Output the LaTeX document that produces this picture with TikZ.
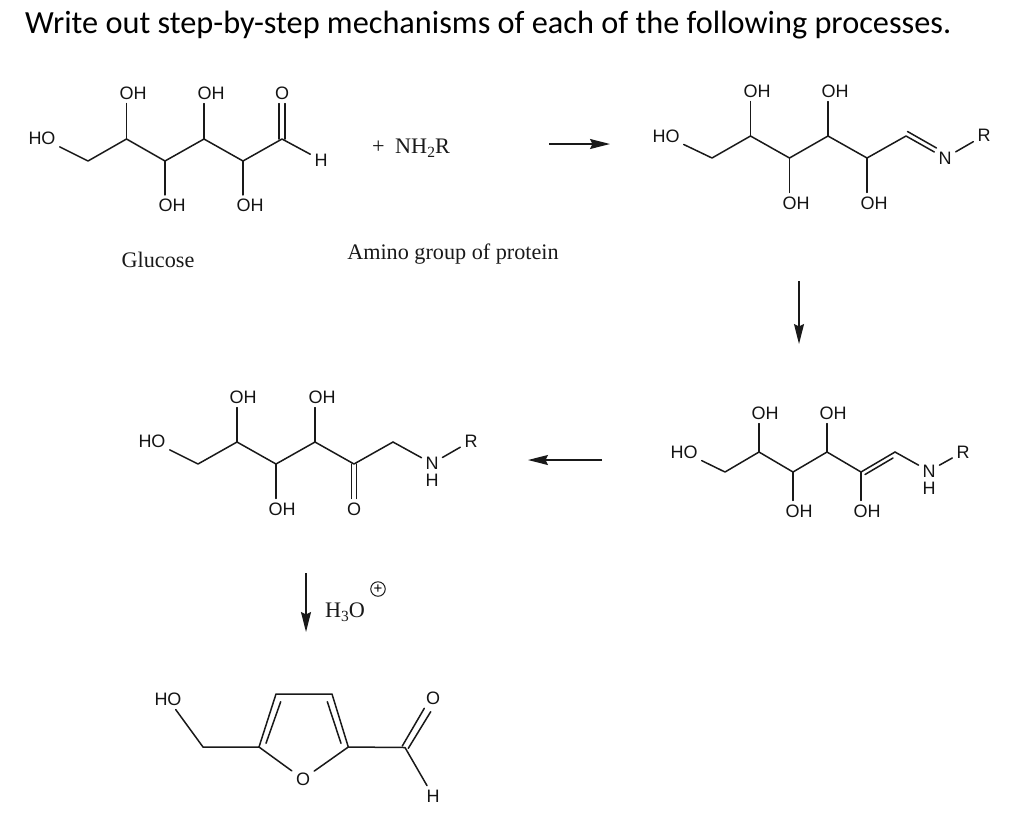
\documentclass[tikz,border=0pt]{standalone}
\usepackage{fontspec}
\setmainfont{Liberation Sans}
\newfontfamily\titlefont{Carlito}
\newfontfamily\serifchem{Liberation Serif}
\usetikzlibrary{arrows.meta}
\newcommand{\subtwo}[1]{\raisebox{-4.5pt}{\fontsize{15.5}{15.5}\selectfont #1}}
\tikzset{
  atom/.style={inner sep=4pt,yshift=1pt,font=\fontsize{18}{18}\selectfont,text=black!92},
  caption/.style={inner sep=0pt,font=\serifchem\fontsize{22.2}{24}\selectfont,text=black!90},
  bond/.style={line width=1.5pt,black!90,line cap=round,line join=round},
  rxn/.style={line width=1.5pt,black!90,-{Stealth[length=20pt,width=10pt,inset=2.5pt]}},
  charge/.style={circle,draw=black!90,line width=1pt,inner sep=0pt,minimum size=14.5pt,font=\fontsize{15}{15}\selectfont}
}
\begin{document}
\begin{tikzpicture}[x=1pt,y=-1pt]
\useasboundingbox[fill=white] (0,0) rectangle (1024,820);
% title
\node[anchor=base west,inner sep=0pt,font=\titlefont\fontsize{32.3}{34}\selectfont,text=black] (title) at (25,33.5) {Write out step-by-step mechanisms of each of the following processes.};

% ---------- glucose
\coordinate (ga) at (88,161);
\coordinate (gb) at (126.5,139);
\coordinate (gc) at (165,161);
\coordinate (gd) at (204,139);
\coordinate (ge) at (243,161);
\coordinate (gf) at (282,139);
\node[atom] (gho) at (42,139) {HO};
\node[atom] (goh1) at (133,94) {OH};
\node[atom] (goh2) at (211,94) {OH};
\node[atom] (goh3) at (172,206.5) {OH};
\node[atom] (goh4) at (250,206.5) {OH};
\node[atom] (go) at (282,94) {O};
\node[atom] (gh) at (321,161) {H};
\draw[bond] (gho) -- (ga) -- (gb) -- (gc) -- (gd) -- (ge) -- (gf) -- (gh);
\draw[bond] (gb) -- (goh1.south -| gb);
\draw[bond] (gd) -- (goh2.south -| gd);
\draw[bond] (gc) -- (goh3.north -| gc);
\draw[bond] (ge) -- (goh4.north -| ge);
\draw[bond] ([xshift=-2.8pt]gf) -- ([xshift=-2.8pt]go.south);
\draw[bond] ([xshift=2.8pt]gf) -- ([xshift=2.8pt]go.south);
\node[caption] (glabel) at (158,260) {Glucose};
\node[caption,anchor=base west] (plus) at (372,153) {+\hspace{10.5pt}NH\subtwo{2}R};
\node[caption] (amino) at (453,254.5) {Amino group of protein};

% ---------- imine
\coordinate (ia) at (712,158);
\coordinate (ib) at (750.5,136);
\coordinate (ic) at (789.5,158);
\coordinate (id) at (828,136);
\coordinate (ie) at (867,158);
\coordinate (if) at (906,136);
\coordinate (id1) at (907.5,131.5);
\coordinate (id2) at (936.5,148);
\node[atom] (iho) at (666,137) {HO};
\node[atom] (ioh1) at (757,92) {OH};
\node[atom] (ioh2) at (835,92) {OH};
\node[atom] (ioh3) at (796,204) {OH};
\node[atom] (ioh4) at (874,204) {OH};
\node[atom] (in) at (945,159) {N};
\node[atom] (ir) at (984,136.5) {R};
\draw[bond] (iho) -- (ia) -- (ib) -- (ic) -- (id) -- (ie) -- (if) -- (in);
\draw[bond] (id1) -- (id2);
\draw[bond] (in) -- (ir);
\draw[bond] (ib) -- (ioh1.south -| ib);
\draw[bond] (id) -- (ioh2.south -| id);
\draw[bond] (ic) -- (ioh3.north -| ic);
\draw[bond] (ie) -- (ioh4.north -| ie);

% ---------- enol
\coordinate (ea) at (725,472);
\coordinate (eb) at (759,452);
\coordinate (ec) at (793,472);
\coordinate (ed) at (827,452);
\coordinate (ee) at (861,472);
\coordinate (ef) at (895,452);
\coordinate (ei1) at (865,474.5);
\coordinate (ei2) at (893,458);
\node[atom] (eho) at (684,453) {HO};
\node[atom] (eoh1) at (765,414) {OH};
\node[atom] (eoh2) at (833,414) {OH};
\node[atom] (eoh3) at (799,512) {OH};
\node[atom] (eoh4) at (867,512) {OH};
\node[atom,inner sep=2pt] (en) at (929,472) {N};
\node[atom,inner sep=0pt] (eh) at (929,489) {H};
\node[atom] (er) at (963,453) {R};
\draw[bond,shorten >=2pt] (ef) -- (en);
\draw[bond] (eho) -- (ea) -- (eb) -- (ec) -- (ed) -- (ee) -- (ef);
\draw[bond] (ei1) -- (ei2);
\draw[bond,shorten <=2pt] (en) -- (er);
\draw[bond] (eb) -- (eoh1.south -| eb);
\draw[bond] (ed) -- (eoh2.south -| ed);
\draw[bond] (ec) -- (eoh3.north -| ec);
\draw[bond] (ee) -- (eoh4.north -| ee);

% ---------- amino ketone
\coordinate (ka) at (198,464);
\coordinate (kb) at (237,442);
\coordinate (kc) at (276,464);
\coordinate (kd) at (315,442);
\coordinate (ke) at (354,464);
\coordinate (kf) at (393,442);
\node[atom] (kho) at (152,442) {HO};
\node[atom] (koh1) at (243,398) {OH};
\node[atom] (koh2) at (322,398) {OH};
\node[atom] (koh3) at (282,510) {OH};
\node[atom] (ko) at (354,510) {O};
\node[atom,inner sep=2pt] (kn) at (432,464.5) {N};
\node[atom,inner sep=0pt] (kh) at (432,481.5) {H};
\node[atom] (kr) at (471,442) {R};
\draw[bond,shorten >=2pt] (kf) -- (kn);
\draw[bond,shorten <=2pt] (kn) -- (kr);
\draw[bond] (kho) -- (ka) -- (kb) -- (kc) -- (kd) -- (ke) -- (kf);
\draw[bond] (kb) -- (koh1.south -| kb);
\draw[bond] (kd) -- (koh2.south -| kd);
\draw[bond] (kc) -- (koh3.north -| kc);
\draw[bond] ([xshift=-2.6pt]ke) -- ([xshift=-2.6pt]ko.north);
\draw[bond] ([xshift=2.6pt]ke) -- ([xshift=2.6pt]ko.north);

% ---------- furan
\coordinate (fch) at (203,747);
\coordinate (f5) at (259,747);
\coordinate (f4) at (276,694);
\coordinate (f3) at (332,694);
\coordinate (f2) at (348.3,747);
\coordinate (fc) at (405,747.5);
\coordinate (fi1) at (266,743.3);
\coordinate (fi2) at (280.7,701.7);
\coordinate (fi3) at (327.3,701.7);
\coordinate (fi4) at (341,743.3);
\coordinate (fd1) at (402.3,746);
\coordinate (fd2) at (424.3,708.3);
\coordinate (fd3) at (408.3,748.3);
\coordinate (fd4) at (430.7,711.7);
\node[atom] (fho) at (168,700) {HO};
\node[atom] (fo) at (303,780) {O};
\node[atom] (fo2) at (433,699) {O};
\node[atom] (fh) at (433,797) {H};
\draw[bond] (fho) -- (fch) -- (f5) -- (f4) -- (f3) -- (f2) -- (fc) -- (fh);
\draw[bond] (f5) -- (fo) -- (f2);
\draw[bond] (fi1) -- (fi2);
\draw[bond] (fi3) -- (fi4);
\draw[bond] (fd1) -- (fd2);
\draw[bond] (fd3) -- (fd4);

% ---------- reaction arrows
\coordinate (a1s) at (549,144);
\coordinate (a1e) at (610,144);
\coordinate (a2s) at (799,281);
\coordinate (a2e) at (799,344);
\coordinate (a3s) at (602,460);
\coordinate (a3e) at (528,460);
\coordinate (a4s) at (306,573);
\coordinate (a4e) at (306,632);
\draw[rxn] (a1s) -- (a1e);
\draw[rxn] (a2s) -- (a2e);
\draw[rxn] (a3s) -- (a3e);
\draw[rxn] (a4s) -- (a4e);
\node[caption,anchor=base west] (hyd) at (325,617) {H\subtwo{3}O};
\node[charge] (plusq) at (378,589) {+};
\end{tikzpicture}
\end{document}
